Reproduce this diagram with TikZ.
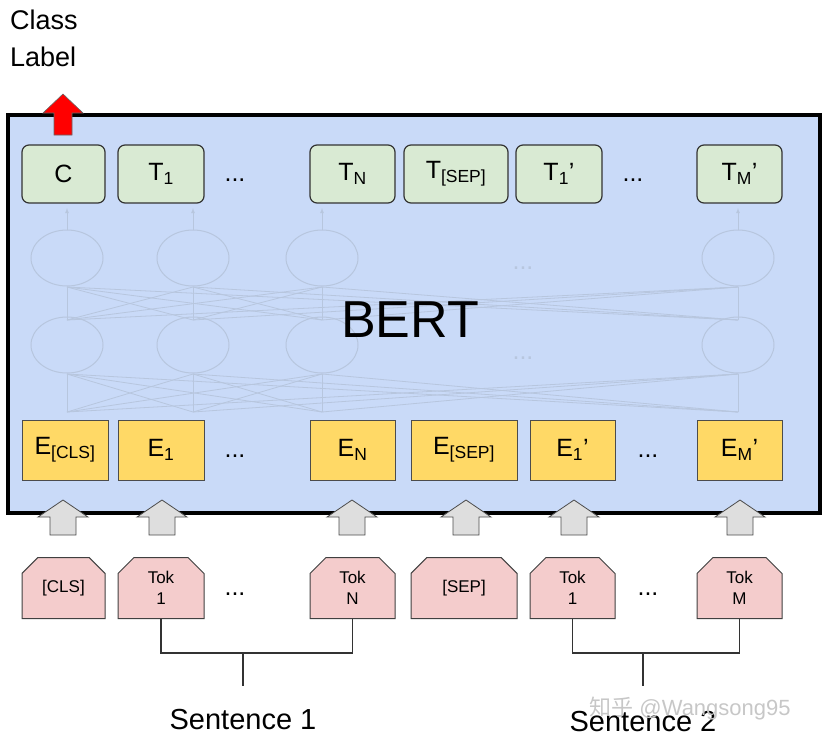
\documentclass[tikz,border=0pt]{standalone}
\usepackage{fontspec}
\setmainfont{Liberation Sans}
\newfontfamily\cjkf{Noto Sans CJK SC}
\usetikzlibrary{shapes.geometric,shapes.misc}
\definecolor{bertbg}{HTML}{C9DAF8}
\definecolor{tgreen}{HTML}{D9EAD3}
\definecolor{eyel}{HTML}{FFD966}
\definecolor{tpink}{HTML}{F4CCCC}
\definecolor{faint}{HTML}{B7C6DE}
\begin{document}
\begin{tikzpicture}[x=1pt,y=-1pt,
  tbox/.style={draw=black!80,line width=1.2pt,fill=tgreen,rounded corners=7pt,minimum height=58pt,inner sep=0pt,font=\fontsize{25}{25}\selectfont},
  ebox/.style={draw=black!70,line width=0.8pt,fill=eyel,minimum height=60pt,inner sep=0pt,font=\fontsize{25}{25}\selectfont},
  kbox/.style={draw=black!75,line width=1pt,fill=tpink,chamfered rectangle,chamfered rectangle corners={north west,north east},chamfered rectangle xsep=8pt,chamfered rectangle ysep=8pt,minimum height=61pt,inner sep=0pt,align=center,font=\fontsize{17}{21}\selectfont},
  dots/.style={font=\fontsize{25}{25}\selectfont},
  neur/.style={draw=faint,line width=1pt,ellipse,minimum width=72pt,minimum height=56pt},
  fl/.style={draw=faint,line width=0.8pt},
  garrow/.style={fill=black!13,draw=black!70,line width=0.8pt},
  brk/.style={draw=black!80,line width=1.2pt}]
\useasboundingbox (0,0) rectangle (824,745);
% BERT box
\node[draw=black,line width=4pt,fill=bertbg,minimum width=812pt,minimum height=398pt,inner sep=0pt] (bert) at (414,314) {};
% faint network
\foreach \n/\x in {a/67,b/193,c/322,d/738}{
  \node[neur] (u\n) at (\x,258) {};
  \node[neur] (l\n) at (\x,345) {};
}
\node[text=faint,dots] (fd1) at (523,268) {...};
\node[text=faint,dots] (fd2) at (523,358) {...};
\foreach \s in {67,193,322,738}{
  \foreach \t in {67,193,322,738}{
    \draw[fl] (\s,412) -- (\t,374);
    \draw[fl] (\s,320) -- (\t,287);
  }
  \draw[fl,-latex] (\s,230) -- (\s,208);
}
\node[font=\fontsize{52}{52}\selectfont] (btxt) at (410,320) {BERT};
% top outputs
\node[tbox,minimum width=83pt] (C) at (63.5,174) {C};
\node[tbox,minimum width=86pt] (T1) at (161,174) {T\textsubscript{1}};
\node[tbox,minimum width=85pt] (TN) at (352.5,174) {T\textsubscript{N}};
\node[tbox,minimum width=104pt] (TS) at (456,174) {T\textsubscript{[SEP]}};
\node[tbox,minimum width=86pt] (T1p) at (559,174) {T\textsubscript{1}’};
\node[tbox,minimum width=85pt] (TMp) at (739.5,174) {T\textsubscript{M}’};
\node[dots] (d1) at (235,180) {...};
\node[dots] (d2) at (633,180) {...};
% embeddings
\node[ebox,minimum width=86pt] (Ec) at (65,450) {E\textsubscript{[CLS]}};
\node[ebox,minimum width=86pt] (E1) at (161,450) {E\textsubscript{1}};
\node[ebox,minimum width=85pt] (EN) at (352.5,450) {E\textsubscript{N}};
\node[ebox,minimum width=106pt] (ES) at (464,450) {E\textsubscript{[SEP]}};
\node[ebox,minimum width=85pt] (E1p) at (572.5,450) {E\textsubscript{1}’};
\node[ebox,minimum width=85pt] (EMp) at (739.5,450) {E\textsubscript{M}’};
\node[dots] (d3) at (235,456) {...};
\node[dots] (d4) at (648,456) {...};
% gray arrows
\foreach \x in {63,162,352,466,574,740}{
  \draw[garrow] (\x-13,535) -- (\x-13,517) -- (\x-25,517) -- (\x,500) -- (\x+25,517) -- (\x+13,517) -- (\x+13,535) -- cycle;
}
% tokens
\node[kbox,minimum width=83pt] (kc) at (63.5,588) {[CLS]};
\node[kbox,minimum width=86pt] (k1) at (161,588) {Tok\\1};
\node[kbox,minimum width=85pt] (kN) at (352.5,588) {Tok\\N};
\node[kbox,minimum width=106pt] (kS) at (464,588) {[SEP]};
\node[kbox,minimum width=85pt] (k1p) at (572.5,588) {Tok\\1};
\node[kbox,minimum width=85pt] (kMp) at (739.5,588) {Tok\\M};
\node[dots] (d5) at (235,594) {...};
\node[dots] (d6) at (648,594) {...};
% brackets
\coordinate (s1) at (243,686);
\coordinate (s2) at (643,686);
\draw[brk] (k1.south) |- (243,653) -| (kN.south);
\draw[brk] (243,653) -- (s1);
\draw[brk] (k1p.south) |- (643,653) -| (kMp.south);
\draw[brk] (643,653) -- (s2);
\node[font=\fontsize{29}{29}\selectfont] (S1) at (243,720) {Sentence 1};
\node[font=\fontsize{29}{29}\selectfont] (S2) at (643,722) {Sentence 2};
\node[text=black!22,font=\fontsize{22}{22}\selectfont] (wm) at (690,709) {{\cjkf 知乎} @Wangsong95};
% red arrow
\draw[fill=red,draw=black!60,line width=0.6pt] (54,135) -- (54,113) -- (43,113) -- (63,94) -- (83,113) -- (72,113) -- (72,135) -- cycle;
\node[anchor=north west,align=left,inner sep=0pt,font=\fontsize{27}{37}\selectfont] (cl) at (10,10) {Class\\Label};
\end{tikzpicture}
\end{document}
